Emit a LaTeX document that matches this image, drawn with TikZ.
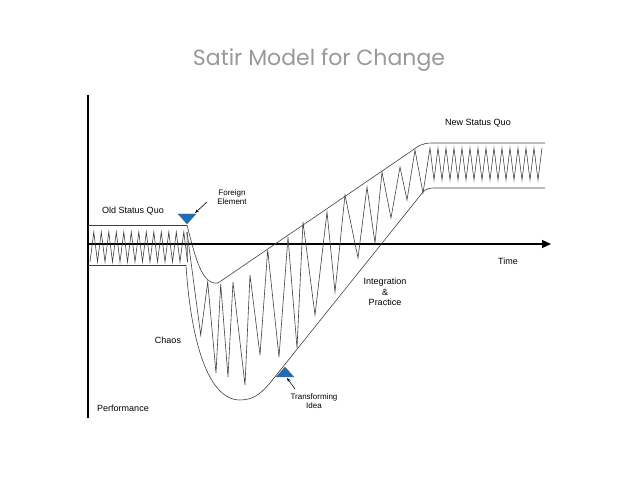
\documentclass[tikz,border=0pt]{standalone}
\usepackage{fontspec}
\setmainfont{Liberation Sans}
\newfontfamily\titlefont{Poppins}
\usetikzlibrary{arrows.meta}
\definecolor{tri}{RGB}{30,110,180}
\begin{document}
\begin{tikzpicture}[x=1pt,y=-1pt,
  lbl/.style={font=\fontsize{8}{9}\selectfont, align=center, inner sep=0},
  env/.style={draw=black!75, line width=0.6pt},
  zig/.style={draw=black!75, line width=0.6pt, line join=miter},
  marker/.style={fill=tri, draw=black!60, line width=0.3pt}]
\useasboundingbox (0,0) rectangle (638,478);
\node[font=\titlefont\fontsize{22}{24}\selectfont, text=black!40] (title) at (319,60) {Satir Model for Change};
% axes
\coordinate (o) at (88,418);
\coordinate (top) at (88,95);
\coordinate (xs) at (88,244);
\coordinate (xe) at (551,244);
\draw[line width=1.3pt] (top) -- (o);
\draw[line width=1.3pt, -{Triangle[length=9pt,width=8pt]}] (xs) -- (xe);
% old status quo band
\draw[env] (88,225) -- (187,225);
\draw[env] (88,265) -- (186,265);
\draw[zig] (90,262) \foreach \i in {0,...,12} { -- ({93.8+7.5*\i},232) -- ({97.5+7.5*\i},262)} -- (187,232);
% envelopes
\draw[env] (187,225) .. controls (196,260) and (202,285) .. (218,283) -- (410,152) .. controls (418,146) and (422,143) .. (432,143) -- (545,143);
\draw[env] (186,265) .. controls (190,330) and (205,400) .. (240,400) .. controls (255,400) and (262,392) .. (270,383) -- (423,192) .. controls (426,189) and (428,188) .. (436,188) -- (545,188);
% chaos zigzag
\draw[zig] (187,232) -- (200.7,335) -- (207.7,282) -- (216,373) -- (220.7,284) -- (228,377) -- (233,282) -- (245,385) -- (250,275) -- (260,355) -- (267.7,250) -- (279,357) -- (288,237) -- (297,348) -- (303,222) -- (315,315) -- (327,212) -- (335,292) -- (345,195) -- (358,258) -- (367,187) -- (375,243) -- (382,172) -- (391,218) -- (400,167) -- (407,200) -- (415,150) -- (423,193) -- (430,148)
  \foreach \i in {0,...,13} { -- ({434+8*\i},180) -- ({438+8*\i},148)};
% markers
\draw[marker] (178,214) -- (196,214) -- (187,224) -- cycle;
\coordinate (fe) at (195,213);
\coordinate (fetail) at (207,202);
\draw[-{Stealth[length=4pt]}, line width=0.6pt] (fetail) -- (fe);
\draw[marker] (276,377) -- (294,377) -- (285,367) -- cycle;
\coordinate (ti) at (287,378);
\coordinate (titail) at (295,389);
\draw[-{Stealth[length=4pt]}, line width=0.6pt] (titail) -- (ti);
% labels
\node[lbl] (l1) at (232,197) {Foreign\\Element};
\node[lbl, font=\fontsize{9}{10}\selectfont] (l2) at (133,211) {Old Status Quo};
\node[lbl, font=\fontsize{9}{10}\selectfont] (l3) at (168,340) {Chaos};
\node[lbl, font=\fontsize{9}{10}\selectfont] (l4) at (123,408) {Performance};
\node[lbl] (l5) at (314,401) {Transforming\\Idea};
\node[lbl, font=\fontsize{9}{10.5}\selectfont] (l6) at (385,292) {Integration\\\&\\Practice};
\node[lbl, font=\fontsize{9}{10}\selectfont] (l7) at (508,261) {Time};
\node[lbl, font=\fontsize{9}{10}\selectfont] (l8) at (478,123) {New Status Quo};
\end{tikzpicture}
\end{document}
